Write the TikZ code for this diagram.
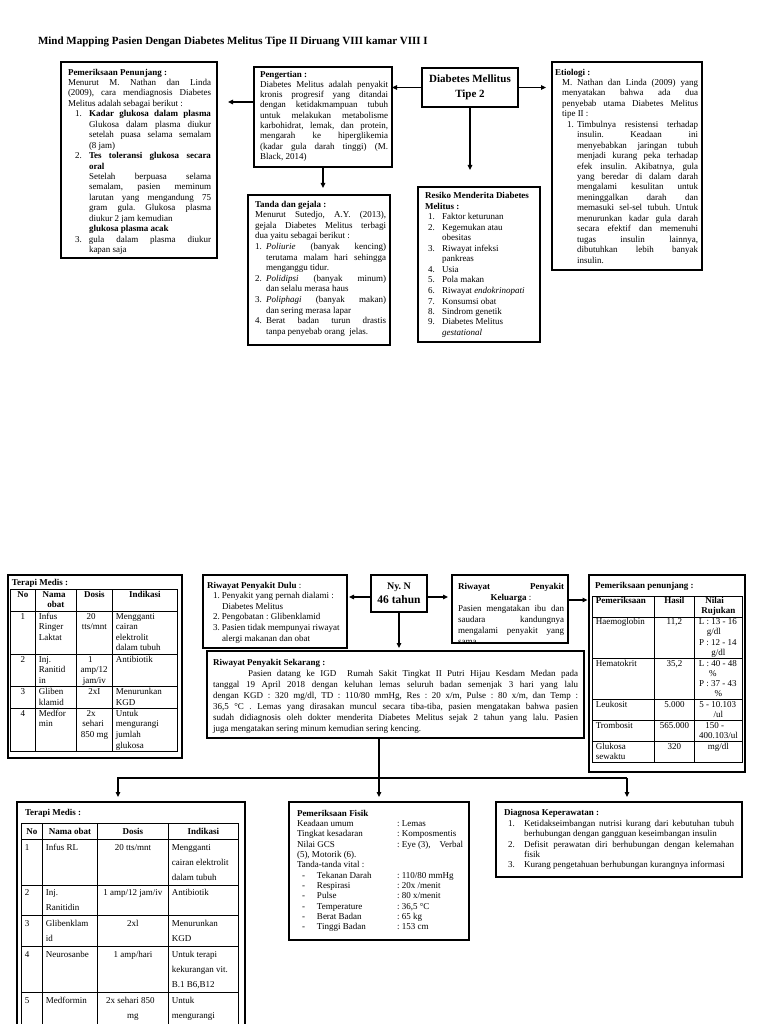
\documentclass[tikz,border=0pt]{standalone}
\usepackage{fontspec}
\setmainfont{Liberation Serif}
\usepackage{array}
\usetikzlibrary{arrows.meta}
\setlength{\arrayrulewidth}{0.8pt}
\frenchspacing
\newcommand\litem[3]{\par\noindent\hangindent=#2\relax\hangafter=1\makebox[#2][l]{\hspace*{#1}#3}\ignorespaces}
\newcommand\ipar[1]{\par\noindent\hangindent=#1\relax\hangafter=0\ignorespaces}
\newcommand\fs[1]{\fontsize{9}{#1}\selectfont}
\newcommand\cc{\centering\arraybackslash}
\newcolumntype{C}[1]{>{\centering\arraybackslash}p{#1}}
\newcolumntype{L}[1]{>{\raggedright\arraybackslash}p{#1}}
\newcommand\bx[5]{\node[box, minimum width=#4pt, minimum height=#5pt] (#1) at (#2,#3) {};}
\begin{document}
\begin{tikzpicture}[x=1pt,y=-1pt,
  box/.style={draw, line width=1.5pt, inner sep=0pt, outer sep=0pt, anchor=north west},
  txt/.style={inner sep=0pt, outer sep=0pt, anchor=north west, align=justify},
  lbl/.style={inner sep=0pt, outer sep=0pt, anchor=base west},
  tab/.style={inner sep=0pt, outer sep=0pt, anchor=north west},
  arr/.style={line width=1.1pt, -{Triangle[length=5pt,width=4.5pt]}}]
\useasboundingbox (0,0) rectangle (768,1024);
\fill[white] (0,0) rectangle (768,1024);

% title
\node[lbl, font=\bfseries\fontsize{11}{13}\selectfont] (title) at (38,44.5) {Mind Mapping Pasien Dengan Diabetes Melitus Tipe II Diruang VIII kamar VIII I};

% ---------- boxes ----------
\bx{pp}{61}{62}{156}{196}
\bx{peng}{254}{67}{138}{100}
\bx{dm}{422}{68}{96}{39}
\bx{etio}{552}{62}{150}{208}
\bx{tanda}{248}{195}{142}{150}
\bx{resiko}{418}{187}{122}{155}
\bx{tmA}{8}{575}{174}{183}
\bx{rpd}{203}{575}{144}{73}
\bx{nyn}{371}{575}{56}{37}
\bx{rpk}{452}{575}{116}{68}
\bx{ppB}{589}{575}{156}{197}
\bx{rps}{207}{651}{377}{87}
\bx{tmB}{17}{802}{228}{240}
\bx{pf}{289}{802}{180}{138}
\bx{dk}{496}{802}{246}{75}

% ---------- top texts ----------
\node[txt, text width=143pt, font={\fs{10.45}}] (pptx) at (68,67.7) {%
\noindent\strut\textbf{Pemeriksaan Penunjang :}\par
\noindent Menurut M. Nathan dan Linda\linebreak (2009), cara mendiagnosis Diabetes\linebreak Melitus adalah sebagai berikut :\par
\litem{7pt}{21pt}{1.}\textbf{Kadar glukosa dalam plasma}\linebreak Glukosa dalam plasma diukur\linebreak setelah puasa selama semalam\linebreak (8 jam)\par
\litem{7pt}{21pt}{2.}\textbf{Tes toleransi glukosa secara}\linebreak \textbf{oral}\newline Setelah berpuasa selama\linebreak semalam, pasien meminum\linebreak larutan yang mengandung 75\linebreak gram gula. Glukosa plasma\linebreak diukur 2 jam kemudian\newline \textbf{glukosa plasma acak}\par
\litem{7pt}{21pt}{3.}gula dalam plasma diukur\linebreak kapan saja\par};

\node[txt, text width=128pt, font={\fs{10.3}}] (pengtx) at (260,69.8) {%
\noindent\strut\textbf{Pengertian :}\par
\noindent Diabetes Melitus adalah penyakit\linebreak kronis progresif yang ditandai\linebreak dengan ketidakmampuan tubuh\linebreak untuk melakukan metabolisme\linebreak karbohidrat, lemak, dan protein,\linebreak mengarah ke hiperglikemia\linebreak (kadar gula darah tinggi) (M.\linebreak Black, 2014)\par};

\node[inner sep=0pt, align=center, font=\bfseries\fontsize{11}{14.5}\selectfont] (dmtx) at (dm.center) {Diabetes Mellitus\\Tipe 2};

\node[txt, text width=143pt, font={\fs{10.45}}] (etiotx) at (555,67.7) {%
\noindent\strut\textbf{Etiologi :}\par
\ipar{7pt}M. Nathan dan Linda (2009) yang\linebreak menyatakan bahwa ada dua\linebreak penyebab utama Diabetes Melitus\linebreak tipe II :\par
\litem{12pt}{22pt}{1.}Timbulnya resistensi terhadap\linebreak insulin. Keadaan ini\linebreak menyebabkan jaringan tubuh\linebreak menjadi kurang peka terhadap\linebreak efek insulin. Akibatnya, gula\linebreak yang beredar di dalam darah\linebreak mengalami kesulitan untuk\linebreak meninggalkan darah dan\linebreak memasuki sel-sel tubuh. Untuk\linebreak menurunkan kadar gula darah\linebreak secara efektif dan memenuhi\linebreak tugas insulin lainnya,\linebreak dibutuhkan lebih banyak\linebreak insulin.\par};

\node[txt, text width=131pt, font={\fs{10.6}}] (tandatx) at (255,199.6) {%
\noindent\strut\textbf{Tanda dan gejala :}\par
\noindent Menurut Sutedjo, A.Y. (2013),\linebreak gejala Diabetes Melitus terbagi\linebreak dua yaitu sebagai berikut :\par
\litem{0pt}{11pt}{1.}\textit{Poliurie} (banyak kencing)\linebreak terutama malam hari sehingga\linebreak menganggu tidur.\par
\litem{0pt}{11pt}{2.}\textit{Polidipsi} (banyak minum)\linebreak dan selalu merasa haus\par
\litem{0pt}{11pt}{3.}\textit{Poliphagi} (banyak makan)\linebreak dan sering merasa lapar\par
\litem{0pt}{11pt}{4.}Berat badan turun drastis\linebreak tanpa penyebab orang\ \ jelas.\par};

\node[txt, text width=112pt, font={\fs{10.5}}] (resikotx) at (425,191.65) {%
\noindent\strut\textbf{Resiko Menderita Diabetes}\newline\textbf{Melitus :}\par
\litem{3pt}{17pt}{1.}Faktor keturunan\par
\litem{3pt}{17pt}{2.}Kegemukan atau\newline obesitas\par
\litem{3pt}{17pt}{3.}Riwayat infeksi\newline pankreas\par
\litem{3pt}{17pt}{4.}Usia\par
\litem{3pt}{17pt}{5.}Pola makan\par
\litem{3pt}{17pt}{6.}Riwayat \textit{endokrinopati}\par
\litem{3pt}{17pt}{7.}Konsumsi obat\par
\litem{3pt}{17pt}{8.}Sindrom genetik\par
\litem{3pt}{17pt}{9.}Diabetes Melitus\newline \textit{gestational}\par};

% ---------- lower texts ----------
\node[lbl, font={\fs{10.5}}] (tmAt) at (12,585) {\textbf{Terapi Medis :}};
\node[tab, font={\fs{10.55}}] (tmAtab) at (10,589) {\setlength\tabcolsep{3pt}%
\begin{tabular}{|C{18.2pt}|L{34.2pt}|C{29.2pt}|L{58.2pt}|}\hline
\textbf{No} & \cc\textbf{Nama}\newline\textbf{obat} & \textbf{Dosis} & \cc\textbf{Indikasi}\\\hline
1 & Infus\newline Ringer\newline Laktat & 20\newline tts/mnt & Mengganti\newline cairan\newline elektrolit\newline dalam tubuh\\\hline
2 & Inj.\newline Ranitid\newline in & 1\newline amp/12\newline jam/iv & Antibiotik\\\hline
3 & Gliben\newline klamid & 2xI & Menurunkan\newline KGD\\\hline
4 & Medfor\newline min & 2x\newline sehari\newline 850 mg & Untuk\newline mengurangi\newline jumlah\newline glukosa\\\hline
\end{tabular}};

\node[txt, text width=138pt, font={\fs{10.6}}] (rpdtx) at (207,580.6) {%
\noindent\strut\textbf{Riwayat Penyakit Dulu} :\par
\litem{6pt}{15pt}{1.}Penyakit yang pernah dialami :\newline Diabetes Melitus\par
\litem{6pt}{15pt}{2.}Pengobatan : Glibenklamid\par
\litem{6pt}{15pt}{3.}Pasien tidak mempunyai riwayat\newline alergi makanan dan obat\par};

\node[inner sep=0pt, align=center, font=\bfseries\fontsize{10}{14}\selectfont] (nyntx) at (nyn.center) {Ny. N\\{\fontsize{11.5}{14}\selectfont 46 tahun}};

\begin{scope}
\clip (453,576) rectangle (567,641.3);
\node[txt, text width=106pt, font={\fs{11}}] (rpktx) at (458,581.3) {%
\noindent\strut\textbf{Riwayat Penyakit}\linebreak\hspace*{\fill}\textbf{Keluarga} :\hspace*{\fill}\par
\noindent Pasien mengatakan ibu dan\linebreak saudara kandungnya\linebreak mengalami penyakit yang\linebreak sama\par};
\end{scope}

\node[lbl, font={\fs{10.5}}] (ppBt) at (595,588) {\textbf{Pemeriksaan penunjang :}};
\node[tab, font={\fs{10.09}}] (ppBtab) at (592,596) {\setlength\tabcolsep{3pt}%
\begin{tabular}{|L{55.2pt}|C{33.2pt}|C{41.2pt}|}\hline
\textbf{Pemeriksaan} & \textbf{Hasil} & \textbf{Nilai}\newline\textbf{Rujukan}\\\hline
Haemoglobin & 11,2 & L : 13 - 16\newline g/dl\newline P : 12 - 14\newline g/dl\\\hline
Hematokrit & 35,2 & L : 40 - 48\newline \%\newline P : 37 - 43\newline \%\\\hline
Leukosit & 5.000 & 5 - 10.103\newline /ul\\\hline
Trombosit & 565.000 & 150 -\newline 400.103/ul\\\hline
Glukosa\newline sewaktu & 320 & mg/dl\\\hline
\end{tabular}};

\node[txt, text width=365pt, font={\fs{11}}] (rpstx) at (213,657.3) {%
\noindent\strut\textbf{Riwayat Penyakit Sekarang :}\par
\noindent\hspace*{35pt}Pasien datang ke IGD\ \ Rumah Sakit Tingkat II Putri Hijau Kesdam Medan pada\linebreak tanggal 19 April 2018 dengan keluhan lemas seluruh badan semenjak 3 hari yang lalu\linebreak dengan KGD : 320 mg/dl, TD : 110/80 mmHg, Res : 20 x/m, Pulse : 80 x/m, dan Temp :\linebreak 36,5 °C . Lemas yang dirasakan muncul secara tiba-tiba, pasien mengatakan bahwa pasien\linebreak sudah didiagnosis oleh dokter menderita Diabetes Melitus sejak 2 tahun yang lalu. Pasien\linebreak juga mengatakan sering minum kemudian sering kencing.\par};

\node[lbl, font={\fs{10.5}}] (tmBt) at (25,815) {\textbf{Terapi Medis :}};
\node[tab, font={\fs{15}}] (tmBtab) at (21,823) {\setlength\tabcolsep{3pt}%
\begin{tabular}{|L{14.2pt}|L{48.2pt}|C{64.2pt}|L{63.2pt}|}\hline
\cc\textbf{No} & \cc\textbf{Nama obat} & \textbf{Dosis} & \cc\textbf{Indikasi}\\\hline
1 & Infus RL & 20 tts/mnt & Mengganti\newline cairan elektrolit\newline dalam tubuh\\\hline
2 & Inj.\newline Ranitidin & 1 amp/12 jam/iv & Antibiotik\\\hline
3 & Glibenklam\newline id & 2xl & Menurunkan\newline KGD\\\hline
4 & Neurosanbe & 1 amp/hari & Untuk terapi\newline kekurangan vit.\newline B.1 B6,B12\\\hline
5 & Medformin & 2x sehari 850\newline mg & Untuk\newline mengurangi\newline\mbox{}\\\hline
\end{tabular}};

\node[txt, text width=166pt, font={\fs{10.36}}] (pftx) at (297,808.75) {%
\noindent\strut\textbf{Pemeriksaan Fisik}\par
\noindent\makebox[100pt][l]{Keadaan umum}: Lemas\par
\noindent\makebox[100pt][l]{Tingkat kesadaran}: Komposmentis\par
\noindent\makebox[100pt][l]{Nilai GCS}: Eye (3),\hfill Verbal\par
\noindent (5), Motorik (6).\par
\noindent Tanda-tanda vital :\par
\noindent\hspace*{5pt}\makebox[15pt][l]{-}\makebox[80pt][l]{Tekanan Darah}: 110/80 mmHg\par
\noindent\hspace*{5pt}\makebox[15pt][l]{-}\makebox[80pt][l]{Respirasi}: 20x /menit\par
\noindent\hspace*{5pt}\makebox[15pt][l]{-}\makebox[80pt][l]{Pulse}: 80 x/menit\par
\noindent\hspace*{5pt}\makebox[15pt][l]{-}\makebox[80pt][l]{Temperature}: 36,5 °C\par
\noindent\hspace*{5pt}\makebox[15pt][l]{-}\makebox[80pt][l]{Berat Badan}: 65 kg\par
\noindent\hspace*{5pt}\makebox[15pt][l]{-}\makebox[80pt][l]{Tinggi Badan}: 153 cm\par};

\node[txt, text width=230pt, font={\fs{10.4}}] (dktx) at (504,808.7) {%
\noindent\strut\textbf{Diagnosa Keperawatan :}\par
\litem{4pt}{20pt}{1.}Ketidakseimbangan nutrisi kurang dari kebutuhan tubuh\linebreak berhubungan dengan gangguan keseimbangan insulin\par
\litem{4pt}{20pt}{2.}Defisit perawatan diri berhubungan dengan kelemahan\linebreak fisik\par
\litem{4pt}{20pt}{3.}Kurang pengetahuan berhubungan kurangnya informasi\par};

% ---------- connectors ----------
\coordinate (pptip) at (228,102);
\draw[arr] (peng.west |- pptip) -- (pptip);
\draw[arr] (dm.west) -- (dm.west -| peng.east);
\draw[arr, shorten >=6pt] (dm.east) -- (dm.east -| etio.west);
\draw[arr, shorten >=17pt] (dm.south) -- (dm.south |- resiko.north);
\draw[arr, shorten >=7pt] (peng.south) -- (peng.south |- tanda.north);

\coordinate (nyy) at (0,597);
\draw[arr, shorten >=2pt] (nyn.west |- nyy) -- (rpd.east |- nyy);
\draw[arr, shorten >=4pt] (nyn.east |- nyy) -- (rpk.west |- nyy);
\draw[arr, shorten >=3pt] (nyn.south) -- (nyn.south |- rps.north);
\coordinate (kky) at (0,600);
\draw[arr, shorten >=1.5pt] (rpk.east |- kky) -- (ppB.west |- kky);
\draw[arr, shorten >=5pt] (rps.south -| pf.north) -- (pf.north);
\coordinate (jl) at (118,778);
\coordinate (jr) at (627,778);
\draw[arr, shorten >=5pt] (jr) -- (jl) -- (jl |- tmB.north);
\draw[arr, shorten >=5pt] (jr) -- (jr |- dk.north);
\end{tikzpicture}
\end{document}
